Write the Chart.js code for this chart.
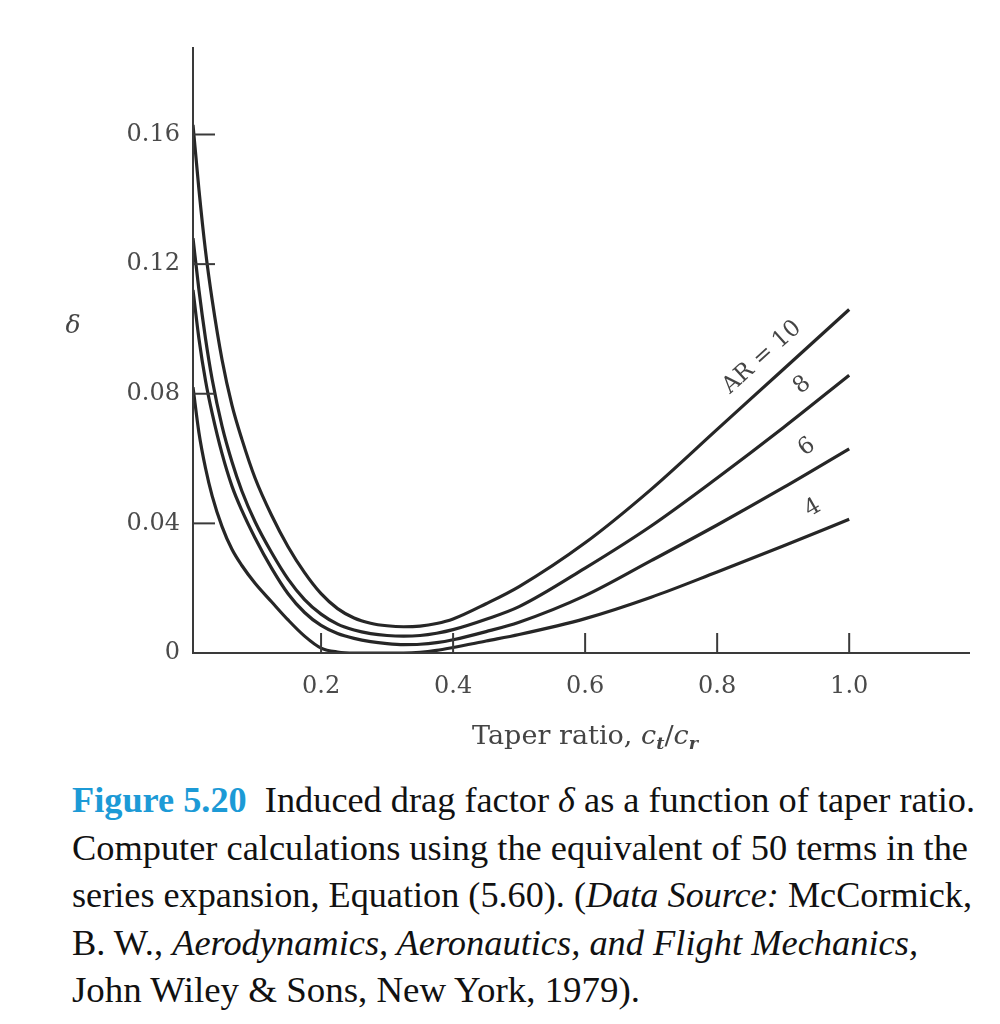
<!DOCTYPE html>
<html>
<head>
<meta charset="utf-8">
<script src="https://cdn.jsdelivr.net/npm/chart.js@4.4.1/dist/chart.umd.min.js"></script>
<style>
  html, body { margin: 0; padding: 0; background: #fff; }
  #wrap { position: relative; width: 1000px; height: 1024px; }
  #chart { position: absolute; left: 0; top: 0; }
  .cap { position: absolute; left: 72px; font-family: "Liberation Serif", "Times New Roman", serif; font-size: 36px;
         color: #111; white-space: nowrap; transform-origin: left top; line-height: 47px; }
  .cap b { color: #1c9ad6; }
</style>
</head>
<body>
<div id="wrap">
  <canvas id="chart" width="1000" height="760"></canvas>
  <div class="cap" id="l1" style="top:777px"><b>Figure 5.20</b>&nbsp; Induced drag factor <i>δ</i> as a function of taper ratio.</div>
  <div class="cap" id="l2" style="top:825px">Computer calculations using the equivalent of 50 terms in the</div>
  <div class="cap" id="l3" style="top:872px">series expansion, Equation (5.60). (<i>Data Source:</i> McCormick,</div>
  <div class="cap" id="l4" style="top:920px">B. W., <i>Aerodynamics, Aeronautics, and Flight Mechanics,</i></div>
  <div class="cap" id="l5" style="top:967px">John Wiley &amp; Sons, New York, 1979).</div>
</div>
<script>
// taper ratio c_t/c_r
const taperRatio = [0.006, 0.015, 0.025, 0.035, 0.05, 0.065, 0.08, 0.1, 0.125, 0.15, 0.175, 0.2, 0.225, 0.25, 0.275, 0.3, 0.325, 0.35, 0.375, 0.4, 0.45, 0.5, 0.6, 0.7, 0.8, 0.9, 1.0];

// induced drag factor delta, one list per aspect ratio
const deltaAR10 = [0.163, 0.143, 0.124, 0.109, 0.0905, 0.0765, 0.066, 0.054, 0.0425, 0.0328, 0.0248, 0.0183, 0.0137, 0.0108, 0.0092, 0.0084, 0.0081, 0.0083, 0.0091, 0.0105, 0.0152, 0.0205, 0.034, 0.0505, 0.069, 0.0875, 0.106];
const deltaAR8  = [0.128, 0.112, 0.097, 0.0845, 0.070, 0.059, 0.050, 0.0405, 0.031, 0.0228, 0.0165, 0.012, 0.0089, 0.0071, 0.006, 0.0054, 0.0052, 0.0054, 0.0061, 0.0072, 0.0104, 0.0143, 0.0262, 0.0392, 0.054, 0.0695, 0.0857];
const deltaAR6  = [0.112, 0.097, 0.084, 0.074, 0.0615, 0.0515, 0.044, 0.0355, 0.0262, 0.0183, 0.0125, 0.0085, 0.006, 0.0045, 0.0035, 0.0029, 0.0026, 0.0027, 0.0032, 0.0041, 0.0066, 0.0095, 0.0177, 0.0285, 0.0395, 0.051, 0.063];
const deltaAR4  = [0.082, 0.068, 0.057, 0.0485, 0.039, 0.032, 0.027, 0.0215, 0.0158, 0.0102, 0.0052, 0.0015, 0.0003, 0, 0, 0, 0, 0.0002, 0.0008, 0.0017, 0.0037, 0.0057, 0.0106, 0.0172, 0.025, 0.033, 0.0413];

const xTicks = [0.2, 0.4, 0.6, 0.8, 1.0];
const yTicks = [0, 0.04, 0.08, 0.12, 0.16];
const curveLabels = ['AR = 10', '8', '6', '4'];

const ink = '#262626';
const serif = '"DejaVu Serif", serif';

function serie(values) {
    return {
        data: taperRatio.map((x, i) => ({ x: x, y: values[i] })),
        borderColor: ink,
        borderWidth: 3.2,
        pointRadius: 0,
        fill: false,
        cubicInterpolationMode: 'monotone'
    };
}

// ejes, marcas interiores y rótulos
const decoracion = {
    id: 'decoracion',
    afterDraw(chart) {
        const ctx = chart.ctx;
        const xs = chart.scales.x;
        const ys = chart.scales.y;
        const x0 = xs.left, y0 = ys.bottom;

        ctx.save();
        ctx.strokeStyle = '#3a3a3a';
        ctx.lineWidth = 2;
        ctx.beginPath();
        ctx.moveTo(x0, ys.top);
        ctx.lineTo(x0, y0);
        ctx.lineTo(xs.right, y0);
        ctx.stroke();

        xTicks.forEach(v => {
            const px = xs.getPixelForValue(v);
            ctx.beginPath();
            ctx.moveTo(px, y0);
            ctx.lineTo(px, y0 - 20);
            ctx.stroke();
        });
        yTicks.slice(1).forEach(v => {
            const py = ys.getPixelForValue(v);
            ctx.beginPath();
            ctx.moveTo(x0, py);
            ctx.lineTo(x0 + 22, py);
            ctx.stroke();
        });

        // nombres de las curvas
        const pos = [[0.868, 0.0912, -42], [0.929, 0.0826, -40], [0.936, 0.0635, -36], [0.945, 0.0447, -30]];
        ctx.fillStyle = '#444';
        ctx.font = '23px ' + serif;
        ctx.textAlign = 'center';
        ctx.textBaseline = 'middle';
        curveLabels.forEach((t, i) => {
            ctx.save();
            ctx.translate(xs.getPixelForValue(pos[i][0]), ys.getPixelForValue(pos[i][1]));
            ctx.rotate(pos[i][2] * Math.PI / 180);
            ctx.fillText(t, 0, 0);
            ctx.restore();
        });

        // símbolo del eje y
        ctx.font = 'italic 25px ' + serif;
        ctx.fillText('δ', 73, 326);

        // título del eje x: Taper ratio, c_t/c_r
        ctx.textAlign = 'left';
        ctx.textBaseline = 'alphabetic';
        const parts = [
            ['Taper ratio, ', '26px ', 0],
            ['c', 'italic 26px ', 0],
            ['t', 'italic bold 17px ', 5],
            ['/', '26px ', 0],
            ['c', 'italic 26px ', 0],
            ['r', 'italic bold 17px ', 5]
        ];
        let w = 0;
        parts.forEach(p => { ctx.font = p[1] + serif; w += ctx.measureText(p[0]).width; });
        const k = 226 / w;
        ctx.translate(472, 744);
        ctx.scale(k, 1);
        let cx = 0;
        parts.forEach(p => {
            ctx.font = p[1] + serif;
            ctx.fillText(p[0], cx, p[2]);
            cx += ctx.measureText(p[0]).width;
        });
        ctx.restore();
    }
};

new Chart(document.getElementById('chart'), {
    type: 'line',
    data: {
        datasets: [serie(deltaAR10), serie(deltaAR8), serie(deltaAR6), serie(deltaAR4)]
    },
    options: {
        responsive: false,
        animation: false,
        layout: { padding: { top: 47, right: 30, left: 0, bottom: 0 } },
        plugins: { legend: { display: false }, tooltip: { enabled: false } },
        scales: {
            x: {
                type: 'linear',
                min: 0.006,
                max: 1.183,
                afterBuildTicks: s => { s.ticks = xTicks.map(v => ({ value: v })); },
                afterFit: s => { s.height = 107; },
                grid: { display: false, drawTicks: false },
                border: { display: false },
                ticks: {
                    padding: 19,
                    color: '#4a4a4a',
                    font: { family: serif, size: 24 },
                    callback: v => v.toFixed(1)
                }
            },
            y: {
                min: 0,
                max: 0.187,
                afterBuildTicks: s => { s.ticks = yTicks.map(v => ({ value: v })); },
                afterFit: s => { s.width = 193; },
                grid: { display: false, drawTicks: false },
                border: { display: false },
                ticks: {
                    padding: 13,
                    color: '#4a4a4a',
                    font: { family: serif, size: 24 },
                    callback: v => v === 0 ? '0' : v.toFixed(2)
                }
            }
        }
    },
    plugins: [decoracion]
});

// ajustar el ancho de cada línea del pie de figura
const anchos = { l1: 903, l2: 896, l3: 900, l4: 846, l5: 568 };
Object.keys(anchos).forEach(id => {
    const el = document.getElementById(id);
    const real = el.getBoundingClientRect().width;
    el.style.transform = 'scaleX(' + (anchos[id] / real) + ')';
});
</script>
</body>
</html>
